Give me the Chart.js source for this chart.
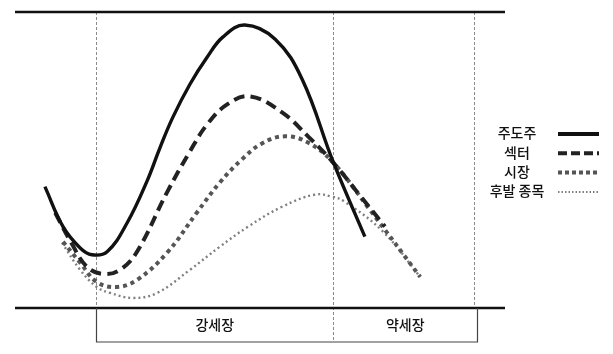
<!DOCTYPE html>
<html lang="ko">
<head>
<meta charset="utf-8">
<script src="https://cdn.jsdelivr.net/npm/chart.js@4.4.1/dist/chart.umd.min.js"></script>
<style>
  html, body { margin: 0; padding: 0; background: #fff; }
  #wrap { width: 613px; height: 354px; }
</style>
</head>
<body>
<div id="wrap"><canvas id="cycle-chart"></canvas></div>
<script>
// Series data (x = time, y = relative strength)
const seriesNames = ["주도주", "섹터", "시장", "후발 종목"];

const leaderX = [6.1, 9.8, 13.3, 15.7, 18.8, 22.9, 26.9, 29.6, 32.2, 35.7, 39.2, 42.4, 46.9, 53.1, 58.6, 64.9, 71.4];
const leaderY = [41.0, 27.5, 20.3, 18.0, 19.0, 28.8, 42.7, 54.2, 64.4, 75.6, 84.7, 91.5, 95.6, 90.8, 77.3, 49.5, 24.1];

const sectorX = [8.2, 11.6, 14.7, 18.0, 21.4, 24.9, 31.0, 35.7, 39.2, 43.3, 48.0, 54.5, 59.8, 64.9, 70.4, 75.5];
const sectorY = [32.2, 21.7, 13.9, 11.5, 12.9, 19.0, 39.0, 52.9, 62.0, 68.8, 71.5, 66.1, 58.0, 49.2, 38.0, 27.5];

const marketX = [9.8, 13.3, 16.7, 20.8, 24.9, 31.0, 37.1, 41.8, 46.3, 50.4, 55.1, 59.8, 64.9, 72.4, 82.7];
const marketY = [22.4, 15.3, 8.8, 7.1, 9.5, 18.6, 32.2, 42.4, 50.2, 55.6, 58.0, 55.9, 49.2, 33.2, 10.5];

const laggardX = [9.6, 13.3, 16.7, 19.4, 24.1, 29.0, 35.7, 41.8, 47.6, 54.5, 61.2, 64.7, 67.3, 75.1, 82.7];
const laggardY = [22.0, 12.9, 7.1, 5.1, 3.4, 5.1, 12.9, 20.7, 27.5, 34.2, 38.3, 37.6, 35.9, 25.8, 10.5];

// Phase boundaries on the time axis and their labels
const phaseBounds = [16.5, 64.9, 93.7];
const phaseNames = ["강세장", "약세장"];

const fontFamily = "'Noto Sans CJK KR', 'Noto Sans', sans-serif";

const toPoints = (xs, ys) => xs.map((x, i) => ({ x: x, y: ys[i] }));

const lineStyles = [
  { color: "#111", width: 3.4, dash: [], legendDash: [] },
  { color: "#222", width: 4, dash: [11, 6], legendDash: [9, 4] },
  { color: "#555", width: 4, dash: [4, 4], legendDash: [4, 3] },
  { color: "#808080", width: 2.4, dash: [2, 3], legendDash: [1.5, 2] },
];

const allData = [
  toPoints(leaderX, leaderY),
  toPoints(sectorX, sectorY),
  toPoints(marketX, marketY),
  toPoints(laggardX, laggardY),
];

const datasets = seriesNames.map((name, i) => ({
  label: name,
  data: allData[i],
  borderColor: lineStyles[i].color,
  borderWidth: lineStyles[i].width,
  borderDash: lineStyles[i].dash,
  pointRadius: 0,
  fill: false,
  tension: 0.4,
  order: i,
}));

// Draws the frame lines, phase guides, phase box and legend
const framePlugin = {
  id: "framePlugin",
  beforeDatasetsDraw(chart) {
    const { ctx, chartArea, scales } = chart;
    const boxBottom = chartArea.bottom + 34;
    ctx.save();
    // vertical dashed guides
    ctx.strokeStyle = "#8a8a8a";
    ctx.lineWidth = 1;
    ctx.setLineDash([3, 2]);
    phaseBounds.forEach((b, i) => {
      const px = Math.round(scales.x.getPixelForValue(b)) + 0.5;
      ctx.beginPath();
      ctx.moveTo(px, chartArea.top);
      ctx.lineTo(px, i < phaseBounds.length - 1 ? boxBottom : chartArea.bottom);
      ctx.stroke();
    });
    ctx.setLineDash([]);
    // top and bottom lines
    ctx.strokeStyle = "#111";
    ctx.lineWidth = 2.5;
    [chartArea.top, chartArea.bottom].forEach((py) => {
      ctx.beginPath();
      ctx.moveTo(chartArea.left, py);
      ctx.lineTo(chartArea.right, py);
      ctx.stroke();
    });
    ctx.restore();
  },
  afterDraw(chart) {
    const { ctx, chartArea, scales } = chart;
    const boxTop = chartArea.bottom;
    const boxBottom = chartArea.bottom + 34;
    const left = Math.round(scales.x.getPixelForValue(phaseBounds[0])) + 0.5;
    const right = Math.round(scales.x.getPixelForValue(phaseBounds[2])) + 3.5;
    ctx.save();
    // phase box
    ctx.strokeStyle = "#444";
    ctx.lineWidth = 1.2;
    ctx.beginPath();
    ctx.moveTo(left, boxTop);
    ctx.lineTo(left, boxBottom);
    ctx.lineTo(right, boxBottom);
    ctx.lineTo(right, boxTop);
    ctx.stroke();
    // phase labels
    ctx.fillStyle = "#111";
    ctx.font = "500 14px " + fontFamily;
    ctx.textAlign = "center";
    ctx.textBaseline = "middle";
    const mid = scales.x.getPixelForValue(phaseBounds[1]);
    ctx.fillText(phaseNames[0], (left + mid) / 2, boxTop + 17);
    ctx.fillText(phaseNames[1], (mid + right) / 2, boxTop + 17);
    // legend
    const textX = chartArea.right + 12;
    const lineX0 = chartArea.right + 53;
    const lineX1 = chartArea.right + 94;
    seriesNames.forEach((name, i) => {
      const py = 133 + i * 19.3;
      ctx.fillStyle = "#111";
      ctx.font = "500 14px " + fontFamily;
      ctx.fillText(name, textX, py);
      ctx.strokeStyle = lineStyles[i].color;
      ctx.lineWidth = i === 3 ? 2 : 4;
      ctx.setLineDash(lineStyles[i].legendDash);
      ctx.beginPath();
      ctx.moveTo(lineX0, py + 1);
      ctx.lineTo(lineX1, py + 1);
      ctx.stroke();
    });
    ctx.restore();
  },
};

new Chart(document.querySelector("#cycle-chart"), {
  type: "line",
  data: { datasets: datasets },
  options: {
    responsive: true,
    maintainAspectRatio: false,
    animation: false,
    layout: { padding: { left: 15, right: 108, top: 12, bottom: 46 } },
    scales: {
      x: { type: "linear", min: 0, max: 100, display: false },
      y: { type: "linear", min: 0, max: 100, display: false },
    },
    plugins: {
      legend: { display: false },
      tooltip: { enabled: false },
    },
  },
  plugins: [framePlugin],
});
</script>
</body>
</html>
